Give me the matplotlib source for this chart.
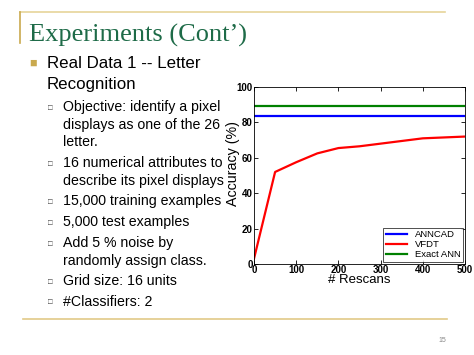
import matplotlib
matplotlib.use("Agg")
from matplotlib import pyplot as plt
from matplotlib.lines import Line2D

# chart data
rescans = [0, 50, 100, 150, 200, 250, 300, 350, 400, 450, 500]
vfdt = [3, 52, 57.5, 62.5, 65.5, 66.5, 68, 69.5, 71, 71.5, 72]
anncad = 83.5
exact_ann = 89
x_ticks = [0, 100, 200, 300, 400, 500]
y_ticks = [0, 20, 40, 60, 80, 100]

bullets = [
    "Objective: identify a pixel\ndisplays as one of the 26\nletter.",
    "16 numerical attributes to\ndescribe its pixel displays",
    "15,000 training examples",
    "5,000 test examples",
    "Add 5 % noise by\nrandomly assign class.",
    "Grid size: 16 units",
    "#Classifiers: 2",
]
bullet_y = [107, 163, 201, 222, 243, 281, 302]

W, H = 474, 355
fig = plt.figure(figsize=(W / 100, H / 100), dpi=100)
plt.rcParams['font.family'] = ['Liberation Sans', 'DejaVu Sans']

gold = "#c9a94e"

def fx(px):
    return px / W

def fy(py):
    return 1 - py / H

# slide decoration
fig.add_artist(Line2D([fx(20), fx(445)], [fy(12), fy(12)], color="#e6d49a", lw=1.2))
fig.add_artist(Line2D([fx(20), fx(20)], [fy(12), fy(43)], color=gold, lw=1.2))
fig.add_artist(Line2D([fx(23), fx(447)], [fy(319), fy(319)], color="#e2c987", lw=1.2))

fig.text(fx(29), fy(35), "Experiments (Cont\u2019)", family="Liberation Serif",
         fontsize=19, color="#1e6b48", va="center", ha="left")

fig.text(fx(33), fy(64), "\u25a0", fontsize=9, color=gold, va="center", ha="center")
fig.text(fx(47), fy(63), "Real Data 1 -- Letter", fontsize=12.2, va="center", ha="left")
fig.text(fx(47), fy(85), "Recognition", fontsize=12.2, va="center", ha="left")

for txt, yy in zip(bullets, bullet_y):
    fig.text(fx(50), fy(yy + 1), "\u25a1", fontsize=5.5, color="#333333",
             va="center", ha="center")
    for i, ln in enumerate(txt.split("\n")):
        fig.text(fx(63), fy(yy + i * 17.5), ln, fontsize=10.2, va="center", ha="left")

fig.text(fx(442), fy(340), "15", fontsize=5, color="#888888", va="center", ha="center")

# chart
ax = fig.add_axes([fx(254), fy(264), fx(465) - fx(254), fy(87) - fy(264)])
ax.plot([0, 500], [anncad, anncad], color="#0000ff", lw=1.6, label="ANNCAD")
ax.plot(rescans, vfdt, color="#ff0000", lw=1.6, label="VFDT")
ax.plot([0, 500], [exact_ann, exact_ann], color="#008000", lw=1.6, label="Exact ANN")
ax.set_xlim(0, 500)
ax.set_ylim(0, 100)
ax.set_xticks(x_ticks)
ax.set_yticks(y_ticks)
ax.tick_params(direction="in", top=True, right=True, length=3, width=0.6,
               labelsize=7, pad=1)
for lab in ax.get_xticklabels() + ax.get_yticklabels():
    lab.set_fontweight("bold")
for s in ax.spines.values():
    s.set_linewidth(0.6)
ax.set_xlabel("# Rescans", fontsize=9.5, labelpad=-1)
ax.set_ylabel("Accuracy (%)", fontsize=10.3)
ax.yaxis.set_label_coords(-0.066, 0.57)
leg = ax.legend(loc="lower right", fontsize=6.8, frameon=True, fancybox=False,
                edgecolor="black", borderpad=0.3, labelspacing=0.1,
                handlelength=2.2, borderaxespad=0.2)
leg.get_frame().set_linewidth(0.6)

plt.savefig("out.png", dpi=100)
